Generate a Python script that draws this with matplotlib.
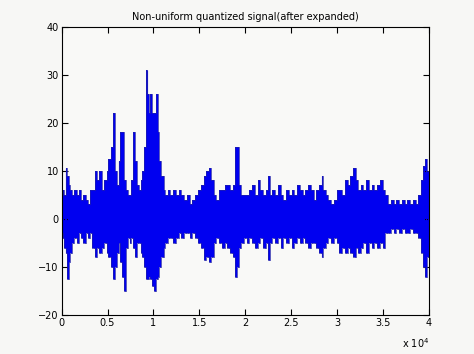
import numpy as np
import matplotlib.pyplot as plt

# envelope of the expanded signal (x in units of 1e4 samples)
t = [0.00, 0.02, 0.04, 0.05, 0.07, 0.08, 0.10, 0.12, 0.15, 0.18, 0.20, 0.22, 0.25, 0.28,
     0.30, 0.32, 0.35, 0.37, 0.40, 0.42, 0.45, 0.48, 0.50, 0.52, 0.55, 0.57, 0.59, 0.61,
     0.63, 0.65, 0.67, 0.69, 0.71, 0.73, 0.75, 0.77, 0.79, 0.81, 0.83, 0.85, 0.87, 0.89,
     0.91, 0.93, 0.94, 0.96, 0.97, 0.99, 1.02, 1.04, 1.05, 1.07, 1.10, 1.12, 1.14, 1.17,
     1.20, 1.23, 1.26, 1.29, 1.32, 1.35, 1.38, 1.41, 1.44, 1.47, 1.50, 1.53, 1.56, 1.59,
     1.62, 1.64, 1.67, 1.70, 1.73, 1.76, 1.79, 1.82, 1.85, 1.88, 1.90, 1.92, 1.94, 1.97,
     2.00, 2.03, 2.06, 2.09, 2.12, 2.15, 2.18, 2.21, 2.24, 2.26, 2.28, 2.31, 2.34, 2.37,
     2.40, 2.43, 2.46, 2.49, 2.52, 2.55, 2.58, 2.61, 2.64, 2.67, 2.70, 2.73, 2.76, 2.79,
     2.82, 2.84, 2.86, 2.89, 2.92, 2.95, 2.98, 3.01, 3.04, 3.07, 3.10, 3.13, 3.16, 3.19,
     3.21, 3.24, 3.27, 3.30, 3.33, 3.36, 3.39, 3.42, 3.45, 3.48, 3.51, 3.54, 3.57, 3.60,
     3.63, 3.66, 3.69, 3.72, 3.75, 3.78, 3.81, 3.84, 3.87, 3.90, 3.93, 3.95, 3.97, 3.99,
     4.00]
hi = [5, 6, 5, 10.5, 9, 7, 6, 5, 6, 5, 6, 4, 5, 4,
      3, 6, 6, 10, 8, 10, 6, 8, 10, 12.5, 15, 22, 10, 7,
      12, 18, 18, 8, 6, 5, 5, 8, 18, 12, 7, 6, 8, 10,
      15, 31, 26, 22, 26, 22, 22, 26, 18, 12, 9, 6, 5, 6,
      5, 6, 5, 6, 5, 4, 5, 3, 4, 5, 6, 7, 9, 10,
      10.5, 8, 5, 4, 6, 6, 7, 7, 6, 7, 15, 15, 7, 5,
      5, 5, 6, 7, 5, 8, 6, 5, 6, 9, 5, 6, 5, 7,
      5, 4, 6, 5, 6, 5, 7, 6, 5, 6, 7, 6, 4, 6,
      7, 9, 6, 5, 4, 3, 4, 6, 6, 5, 8, 7, 9, 10.5,
      8, 6, 7, 6, 8, 6, 7, 6, 7, 8, 6, 5, 3, 4,
      3, 4, 3, 4, 3, 4, 3, 4, 3, 5, 8, 11, 12.5, 10,
      7]
lo = [-3, -4, -6, -7, -12.5, -9, -7, -5, -4, -5, -3, -4, -5, -3,
      -4, -3, -6, -8, -6, -7, -6, -5, -7, -8, -10, -12.5, -10, -7,
      -5, -9, -12, -15, -6, -4, -5, -4, -6, -8, -5, -5, -7, -8,
      -10, -12.5, -12.5, -12, -12.5, -14, -15, -12.5, -12, -10, -8, -6, -5, -4,
      -4, -5, -4, -3, -4, -3, -3, -4, -3, -4, -5, -6, -8.5, -8,
      -9, -8, -5, -4, -5, -6, -5, -6, -7, -8, -12, -10, -6, -5,
      -4, -5, -4, -5, -6, -5, -4, -6, -5, -8.5, -5, -4, -5, -4,
      -6, -4, -5, -4, -6, -5, -4, -5, -4, -5, -6, -5, -5, -6,
      -7, -8, -6, -5, -4, -5, -4, -5, -7, -6, -7, -6, -7, -8,
      -6, -7, -6, -5, -7, -5, -6, -5, -6, -5, -6, -3, -3, -2,
      -3, -2, -3, -2, -3, -3, -2, -3, -3, -4, -7, -10, -12, -8,
      -5]

fig = plt.figure(figsize=(4.74, 3.54), dpi=100, facecolor='#f7f7f5')
ax = fig.add_axes([0.13, 0.11, 0.775, 0.815])
ax.set_facecolor('#f9f9f7')
# solid body of the dense signal, darker strokes only at the envelope
ax.fill_between(t, lo, hi, step='mid', color='#0000f0', lw=0)
ax.vlines(t, lo, hi, color='#0000f0', lw=0.8)
ax.step(t, hi, where='mid', color='#2020a8', lw=0.5)
ax.step(t, lo, where='mid', color='#2020a8', lw=0.5)

ax.set_xlim(0, 4)
ax.set_ylim(-20, 40)
ax.set_xticks(np.arange(0, 4.01, 0.5))
ax.set_xticklabels(['0', '0.5', '1', '1.5', '2', '2.5', '3', '3.5', '4'])
ax.set_yticks(range(-20, 41, 10))
ax.tick_params(direction='in', top=True, right=True, length=4, labelsize=7, pad=2)
for s in ax.spines.values():
    s.set_linewidth(0.8)
ax.set_title('Non-uniform quantized signal(after expanded)', fontsize=7, pad=5)
ax.text(4.0, -25.8, r'x 10$^{4}$', fontsize=7, ha='right', va='center')

fig.savefig('out.png', dpi=100, facecolor=fig.get_facecolor())
